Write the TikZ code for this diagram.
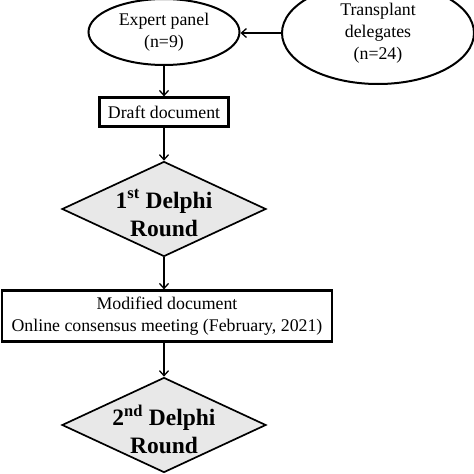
\documentclass[tikz,border=0pt]{standalone}
\usepackage{fontspec}
\setmainfont{Liberation Serif}
\usetikzlibrary{shapes.geometric,arrows.meta}
\begin{document}
\begin{tikzpicture}[x=1pt,y=-1pt,
  txt/.style={font=\fontsize{17.8}{22}\selectfont, align=center},
  ell/.style={ellipse, draw, line width=2pt, inner sep=0pt, txt},
  boxnode/.style={rectangle, draw, line width=2.2pt, inner sep=0pt, txt},
  dia/.style={diamond, draw, line width=1.7pt, fill=black!9, inner sep=0pt, minimum width=204pt, minimum height=95pt},
  boldtxt/.style={font=\fontsize{23.5}{28}\selectfont\bfseries, align=center},
  arr/.style={-{Straight Barb[length=5pt,width=9pt]}, line width=1.3pt}
]
\useasboundingbox (0,0) rectangle (474,474);
\clip (0,0) rectangle (474,474);
\node[ell, minimum width=151pt, minimum height=66pt] (ep) at (164,32) {Expert panel\\(n=9)};
\node[ell, minimum width=192pt, minimum height=102pt] (td) at (378,33) {Transplant\\delegates\\(n=24)};
\node[boxnode, minimum width=129pt, minimum height=29pt] (dd) at (164,112) {Draft document};
\node[dia] (d1) at (164,209) {};
\node[boldtxt] at (164,213) {1\textsuperscript{st} Delphi\\Round};
\node[boxnode, minimum width=330pt, minimum height=51pt] (md) at (167,316) {Modified document\\Online consensus meeting (February, 2021)};
\node[dia] (d2) at (164,425) {};
\node[boldtxt] at (164,429) {2\textsuperscript{nd} Delphi\\Round};
\draw[arr] (td.west) -- (td.west -| ep.east);
\draw[arr] (ep.south) -- (dd.north);
\draw[arr] (dd.south) -- (d1.north);
\draw[arr] (d1.south) -- (d1.south |- md.north);
\draw[arr] (md.south -| d2.north) -- (d2.north);
\end{tikzpicture}
\end{document}
